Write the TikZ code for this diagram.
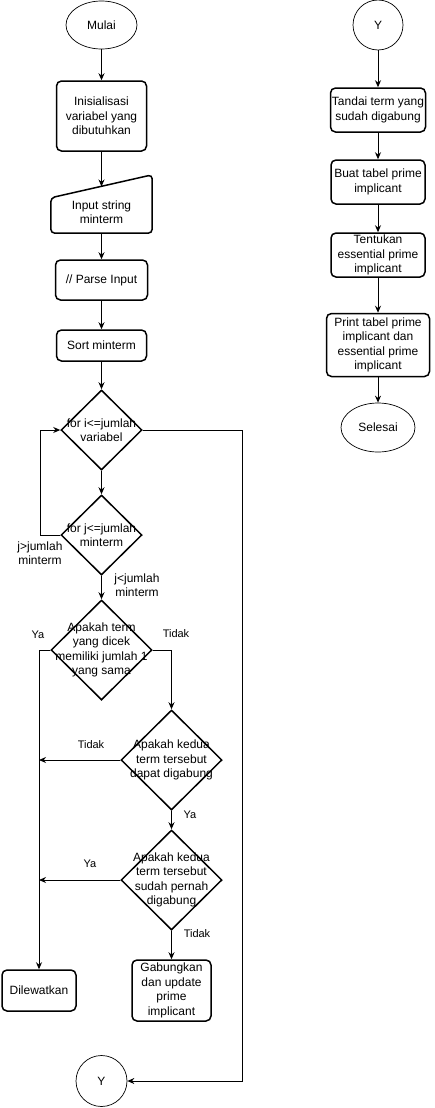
\documentclass[tikz,border=0pt]{standalone}
\usepackage{fontspec}
\setmainfont{Liberation Sans}
\usetikzlibrary{arrows.meta,%
                shapes.geometric}

\begin{document}
\begin{tikzpicture}[x=1pt, y=-1pt, >={Stealth[length=7pt,width=6pt]}]
  \tikzstyle{every node} = [font = \fontsize{12}{14.5}\selectfont,
                            align = center,
                            inner sep = 0.5pt]
\tikzset{Proses/.style={draw, rounded corners=5pt, line width=1.5pt},
         Pilihan/.style={draw, diamond, line width=1.5pt, inner sep=0pt},
         Terminal/.style={draw, ellipse, line width=0.7pt},
         Konektor/.style={draw, circle, line width=0.7pt, inner sep=0pt},
         Garis/.style={->, line width=1pt},
         Keterangan/.style={font=\fontsize{11}{13}\selectfont}}
\useasboundingbox (0,0) rectangle (434,1108);

% kolom kiri
\node[Terminal, minimum width=71pt, minimum height=48pt] (mulai) at (101.5,25) {Mulai};
\node[Proses, minimum width=90pt, minimum height=70pt] (init) at (101.5,116) {Inisialisasi\\variabel yang\\dibutuhkan};
\coordinate (inpatas) at (101.5,186.5);
\node[minimum width=101pt, minimum height=42pt] (input) at (101.5,212) {Input string\\minterm};
\draw[line width=1.5pt, rounded corners=4pt] (input.south west) -- ([yshift=-7pt]input.north west)
  -- ([yshift=16pt]input.north east) -- (input.south east) -- cycle;
\node[Proses, minimum width=92pt, minimum height=40pt] (parse) at (101.5,280) {// Parse Input};
\node[Proses, minimum width=90pt, minimum height=31pt] (sort) at (101.5,345.5) {Sort minterm};
\node[Pilihan, minimum width=81pt, minimum height=80pt,
      label={center:{for i<=jumlah\\variabel}}] (cek1) at (101.5,430) {};
\node[Pilihan, minimum width=81pt, minimum height=80pt,
      label={center:{for j<=jumlah\\minterm}}] (cek2) at (101.5,535) {};
\node[Pilihan, minimum width=101pt, minimum height=100pt,
      label={center:{Apakah term\\yang dicek\\memiliki jumlah 1\\yang sama}}] (cek3) at (101.5,650) {};
\node[Pilihan, minimum width=101pt, minimum height=100pt,
      label={center:{Apakah kedua\\term tersebut\\dapat digabung}}] (cek4) at (171.5,760) {};
\node[Pilihan, minimum width=101pt, minimum height=100pt,
      label={center:{Apakah kedua\\term tersebut\\sudah pernah\\digabung}}] (cek5) at (171.5,880) {};
\node[Proses, minimum width=74pt, minimum height=41pt] (lewat) at (39,990.5) {Dilewatkan};
\node[Proses, minimum width=79pt, minimum height=61pt] (gabung) at (171.5,990.5) {Gabungkan\\dan update\\prime\\implicant};
\node[Konektor, minimum size=51pt] (ybawah) at (101.5,1081) {Y};

% kolom kanan
\node[Konektor, minimum size=50pt] (yatas) at (378,25) {Y};
\node[Proses, minimum width=95pt, minimum height=44pt] (tandai) at (378,110) {Tandai term yang\\sudah digabung};
\node[Proses, minimum width=94pt, minimum height=44pt] (buat) at (378,182) {Buat tabel prime\\implicant};
\node[Proses, minimum width=94pt, minimum height=44pt] (tentukan) at (378,255) {Tentukan\\essential prime\\implicant};
\node[Proses, minimum width=103pt, minimum height=63pt] (print) at (378,345) {Print tabel prime\\implicant dan\\essential prime\\implicant};
\node[Terminal, minimum width=74pt, minimum height=49pt] (selesai) at (378,427.5) {Selesai};

% keterangan
\node (ket1) at (40,553) {j>jumlah\\minterm};
\node (ket2) at (137,585) {j<jumlah\\minterm};
\node[Keterangan] (ket3) at (38,635) {Ya};
\node[Keterangan] (ket4) at (176,634) {Tidak};
\node[Keterangan] (ket5) at (91,745) {Tidak};
\node[Keterangan] (ket6) at (190,815) {Ya};
\node[Keterangan] (ket7) at (90,864) {Ya};
\node[Keterangan] (ket8) at (197,934) {Tidak};

\draw[Garis] (mulai) -- (init);
\draw[Garis] (init) -- (inpatas);
\draw[Garis] (input) -- (parse);
\draw[Garis] (parse) -- (sort);
\draw[Garis] (sort) -- (cek1);
\draw[Garis] (cek1) -- (cek2);
\draw[Garis] (cek2.west) -- ++(-20,0) |- (cek1.west);
\draw[Garis] (cek1.east) -- ++(99.5,0) |- (ybawah.east);
\draw[Garis] (cek2) -- (cek3);
\draw[Garis] (cek3.west) -| (lewat.north);
\draw[Garis] (cek3.east) -| (cek4.north);
\draw[Garis] (cek4.west) -- (cek4.west -| lewat.north);
\draw[Garis] (cek4) -- (cek5);
\draw[Garis] (cek5.west) -- (cek5.west -| lewat.north);
\draw[Garis] (cek5) -- (gabung);

\draw[Garis] (yatas) -- (tandai);
\draw[Garis] (tandai) -- (buat);
\draw[Garis] (buat) -- (tentukan);
\draw[Garis] (tentukan) -- (print);
\draw[Garis] (print) -- (selesai);

\end{tikzpicture}
\end{document}
